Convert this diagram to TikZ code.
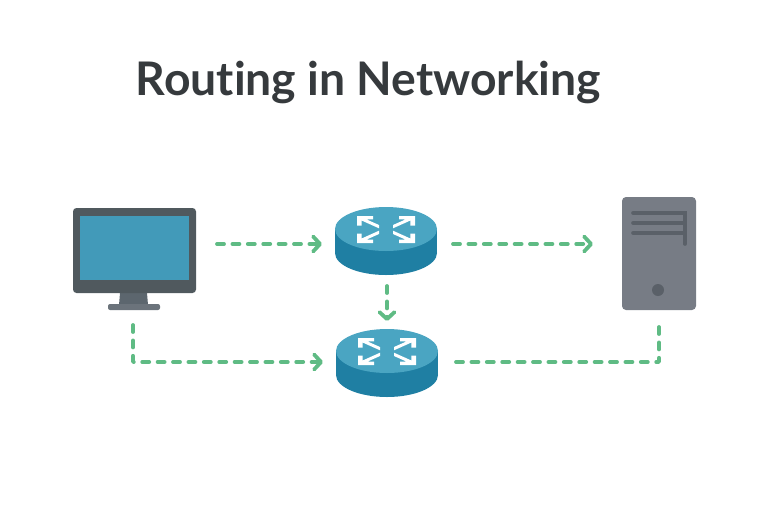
\documentclass[tikz,border=0pt]{standalone}
\usepackage{fontspec}
\setmainfont[Ligatures=NoCommon]{Lato}
\usetikzlibrary{arrows.meta}
\definecolor{titlec}{HTML}{363A3D}
\definecolor{flow}{HTML}{5FBB84}
\definecolor{rtop}{HTML}{4AA5C2}
\definecolor{rside}{HTML}{1F7FA3}
\definecolor{pcdark}{HTML}{50595E}
\definecolor{pcscreen}{HTML}{429AB9}
\definecolor{pcneck}{HTML}{5C666E}
\definecolor{pcbasec}{HTML}{6B737B}
\definecolor{srvc}{HTML}{777C85}
\definecolor{srvd}{HTML}{5A6068}
\tikzset{
  x=1pt,y=-1pt,
  box/.style={inner sep=0pt,outer sep=0pt,minimum width=#1},
  conn/.style={draw=flow,line width=3.8pt,line cap=round,line join=round,dash pattern=on 7pt off 8.4pt},
  tip/.style={-{Straight Barb[length=7pt,width=15pt,round,line width=3.8pt]}},
  bar/.style={draw=srvd,line width=3.6pt,line cap=round},
}
% one white arrow: #1,#2 outer corner of its head, #3,#4 direction of its tail (+1 or -1)
\newcommand{\routerarrow}[4]{%
  \fill[white,shift={(#1,#2)},xscale=#3,yscale=#4]
    (0,0) -- (16,0) -- (16,3.4) -- (9.5,3.4) -- (22,9) -- (22,12.3)
    -- (4.6,4.5) -- (4.6,9.5) -- (0,9.5) -- cycle;}
\newcommand{\routerfig}[2]{%
  \begin{scope}[shift={(#1,#2)}]
    \fill[rside] (0,24) circle[x radius=51,y radius=22];
    \fill[rside] (-51,0) rectangle (51,24);
    \fill[rtop] (0,0) circle[x radius=51,y radius=22];
    \routerarrow{-29}{-13}{1}{1}
    \routerarrow{29}{-13}{-1}{1}
    \routerarrow{-29}{14}{1}{-1}
    \routerarrow{29}{14}{-1}{-1}
  \end{scope}}
\begin{document}
\begin{tikzpicture}
\useasboundingbox (0,0) rectangle (768,512);
\node[inner sep=0pt,anchor=base,text=titlec,font=\fontsize{46.3}{50}\selectfont\bfseries] (title) at (368.5,95) {Routing in Networking};

% monitor
\fill[pcneck] (120,293) -- (147,293) -- (148,305) -- (119,305) -- cycle;
\node[box=52pt,minimum height=6pt,fill=pcbasec,rounded corners=2pt] (pcbase) at (134,307) {};
\node[box=123pt,minimum height=85pt,fill=pcdark,rounded corners=3.5pt] (pc) at (134.5,250.5) {};
\node[box=109pt,minimum height=64pt,fill=pcscreen] (screen) at (134.5,248) {};

% routers
\routerfig{386}{229}
\routerfig{387}{351}
\node[box=102pt,minimum height=68pt] (r1) at (386,241) {};
\node[box=102pt,minimum height=69pt] (r2) at (387,363.5) {};

% server
\node[box=74pt,minimum height=113pt,fill=srvc,rounded corners=4pt] (srv) at (659,253.5) {};
\draw[bar] (633,213) -- (685,213) -- (685,244);
\draw[bar] (633,223) -- (685,223);
\draw[bar] (633,233) -- (685,233);
\node[box=12pt,minimum height=12pt,circle,fill=srvd] (led) at (658,290) {};

% connectors
\draw[conn,tip] ([xshift=21pt,yshift=6.5pt]pc.east) -- ([xshift=-13pt,yshift=-3pt]r1.west);
\draw[conn,tip] ([xshift=16pt,yshift=-3pt]r1.east) -- ([xshift=-29pt,yshift=9.5pt]srv.west);
\draw[conn,tip] ([xshift=1pt,yshift=-11pt]r1.south) -- ([yshift=8pt]r2.north);
\draw[conn,tip] ([xshift=-1pt,yshift=-15pt]pcbase.south) |- ([xshift=-13pt,yshift=1.5pt]r2.west);
\draw[conn] ([xshift=18pt,yshift=1.5pt]r2.east) -| ([yshift=-12pt]srv.south);
\end{tikzpicture}
\end{document}
